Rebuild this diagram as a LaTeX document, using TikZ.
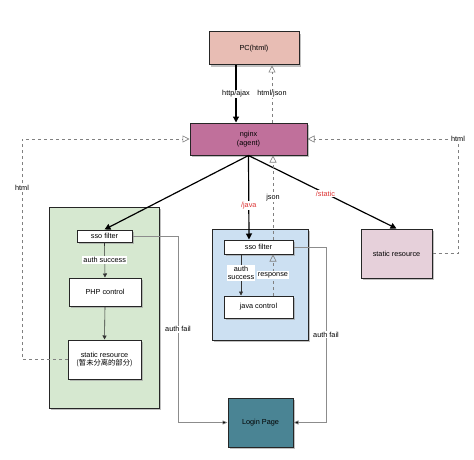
\documentclass[tikz,border=0pt]{standalone}
\usepackage{fontspec}
\setmainfont{Liberation Sans}
\newfontfamily\cjk{Noto Sans CJK SC}
\usetikzlibrary{arrows.meta,shadows}

\definecolor{pcpink}{HTML}{E8BDB4}
\definecolor{nginxmag}{HTML}{C0709B}
\definecolor{phpgreen}{HTML}{D6E8D0}
\definecolor{javablue}{HTML}{CCE0F2}
\definecolor{staticpink}{HTML}{E6D0DA}
\definecolor{loginteal}{HTML}{4A8494}
\definecolor{pathred}{HTML}{DD3333}

\tikzset{
  box/.style={draw=black!85, line width=1pt, rectangle, inner sep=1pt, align=center,
    drop shadow={shadow xshift=2pt, shadow yshift=-2pt, fill=black!40, opacity=0.6}},
  lbl/.style={fill=white, inner sep=1pt, align=center},
  route/.style={line width=1.2pt, -{Triangle[length=6pt,width=6pt]}},
  reply/.style={dashed, draw=black!50, line width=0.6pt, -{Triangle[open,length=7pt,width=7pt]}},
  fail/.style={draw=black!45, line width=0.6pt, -{Triangle[length=5pt,width=4pt,fill=black]}},
  inner/.style={draw=black!80, line width=0.6pt, -{Triangle[length=4pt,width=4pt]}}
}

\begin{document}
\begin{tikzpicture}[x=1pt, y=-1pt, font=\fontsize{7.3}{8.3}\selectfont]
  \fill[white] (0,0) rectangle (474,460);
  \useasboundingbox (0,0) rectangle (474,460);

  % Client and proxy
  \node[box, fill=pcpink, minimum width=90pt, minimum height=33pt] (pc) at (254,48.5) {PC(html)};
  \node[box, fill=nginxmag, minimum width=117pt, minimum height=32pt] (nginx) at (248.5,139) {nginx\\(agent)};

  % PHP side
  \node[box, fill=phpgreen, line width=0.8pt, minimum width=110pt, minimum height=201pt] (phpzone) at (104,307.5) {};
  \node[box, fill=white, minimum width=55pt, minimum height=12pt] (ssophp) at (104.5,236) {sso filter};
  \node[box, fill=white, minimum width=72pt, minimum height=28pt] (phpctl) at (105,292) {PHP control};
  \node[box, fill=white, minimum width=73pt, minimum height=39pt] (oldstatic) at (104.5,359.5) {static resource\\{\cjk (暂未分离的部分)}};

  % Java side
  \node[box, fill=javablue, line width=0.8pt, minimum width=96pt, minimum height=111pt] (javazone) at (260,284.5) {};
  \node[box, fill=white, minimum width=69pt, minimum height=14pt] (ssojava) at (258.5,247) {sso filter};
  \node[box, fill=white, minimum width=69pt, minimum height=22pt] (javactl) at (258.5,307) {java control};

  % Static and login
  \node[box, fill=staticpink, minimum width=71pt, minimum height=49pt] (static) at (396.5,253.5) {static resource};
  \node[box, fill=loginteal, minimum width=65pt, minimum height=49pt] (login) at (260.5,422.5) {Login Page};

  % Lanes for the vertical connectors
  \coordinate (ajaxx) at (236,0);
  \coordinate (jsonx) at (272,0);
  \coordinate (javax) at (249,0);
  \coordinate (respx) at (273,0);
  \coordinate (succx) at (241,0);
  \coordinate (htmlL) at (22,0);
  \coordinate (htmlR) at (458,0);
  \coordinate (failL) at (178,0);
  \coordinate (failR) at (326,0);

  % PC <-> nginx
  \draw[route] (pc.south -| ajaxx) -- node[lbl, pos=0.5] {http/ajax} (nginx.north -| ajaxx);
  \draw[reply] (nginx.north -| jsonx) -- node[lbl, pos=0.5] {html/json} (pc.south -| jsonx);

  % nginx routes
  \draw[route] (nginx.south) -- node[pos=0.6, text=pathred, fill=white, inner sep=1pt] {/java} (ssojava.north -| javax);
  \draw[route] (nginx.south) -- (ssophp.north);
  \draw[route] (nginx.south) -- node[pos=0.52, text=pathred, fill=white, inner sep=1pt] {/static} (static.north);
  \draw[reply] (ssojava.north -| respx) -- node[lbl, pos=0.5] {json} (nginx.south -| respx);

  % html back to nginx
  \draw[reply] (oldstatic.west) -- (oldstatic.west -| htmlL) |- node[lbl, pos=0.39] {html} (nginx.west);
  \draw[reply] (static.east) -- (static.east -| htmlR) |- node[lbl, pos=0.5] {html} (nginx.east);

  % inside PHP
  \draw[inner] (ssophp.south) -- node[lbl] {auth success} (phpctl.north);
  \draw[inner] (phpctl.south) -- (oldstatic.north);

  % inside Java
  \draw[inner] (ssojava.south -| succx) -- node[lbl, pos=0.45] {auth\\success} (javactl.north -| succx);
  \draw[reply] (javactl.north -| respx) -- node[lbl, pos=0.5] {response} (ssojava.south -| respx);

  % auth fail
  \draw[fail] (ssophp.east) -- (ssophp.east -| failL) |- node[lbl, pos=0.25] {auth fail} (login.west);
  \draw[fail] (ssojava.east) -- (ssojava.east -| failR) |- node[lbl, pos=0.25] {auth fail} (login.east);
\end{tikzpicture}
\end{document}
